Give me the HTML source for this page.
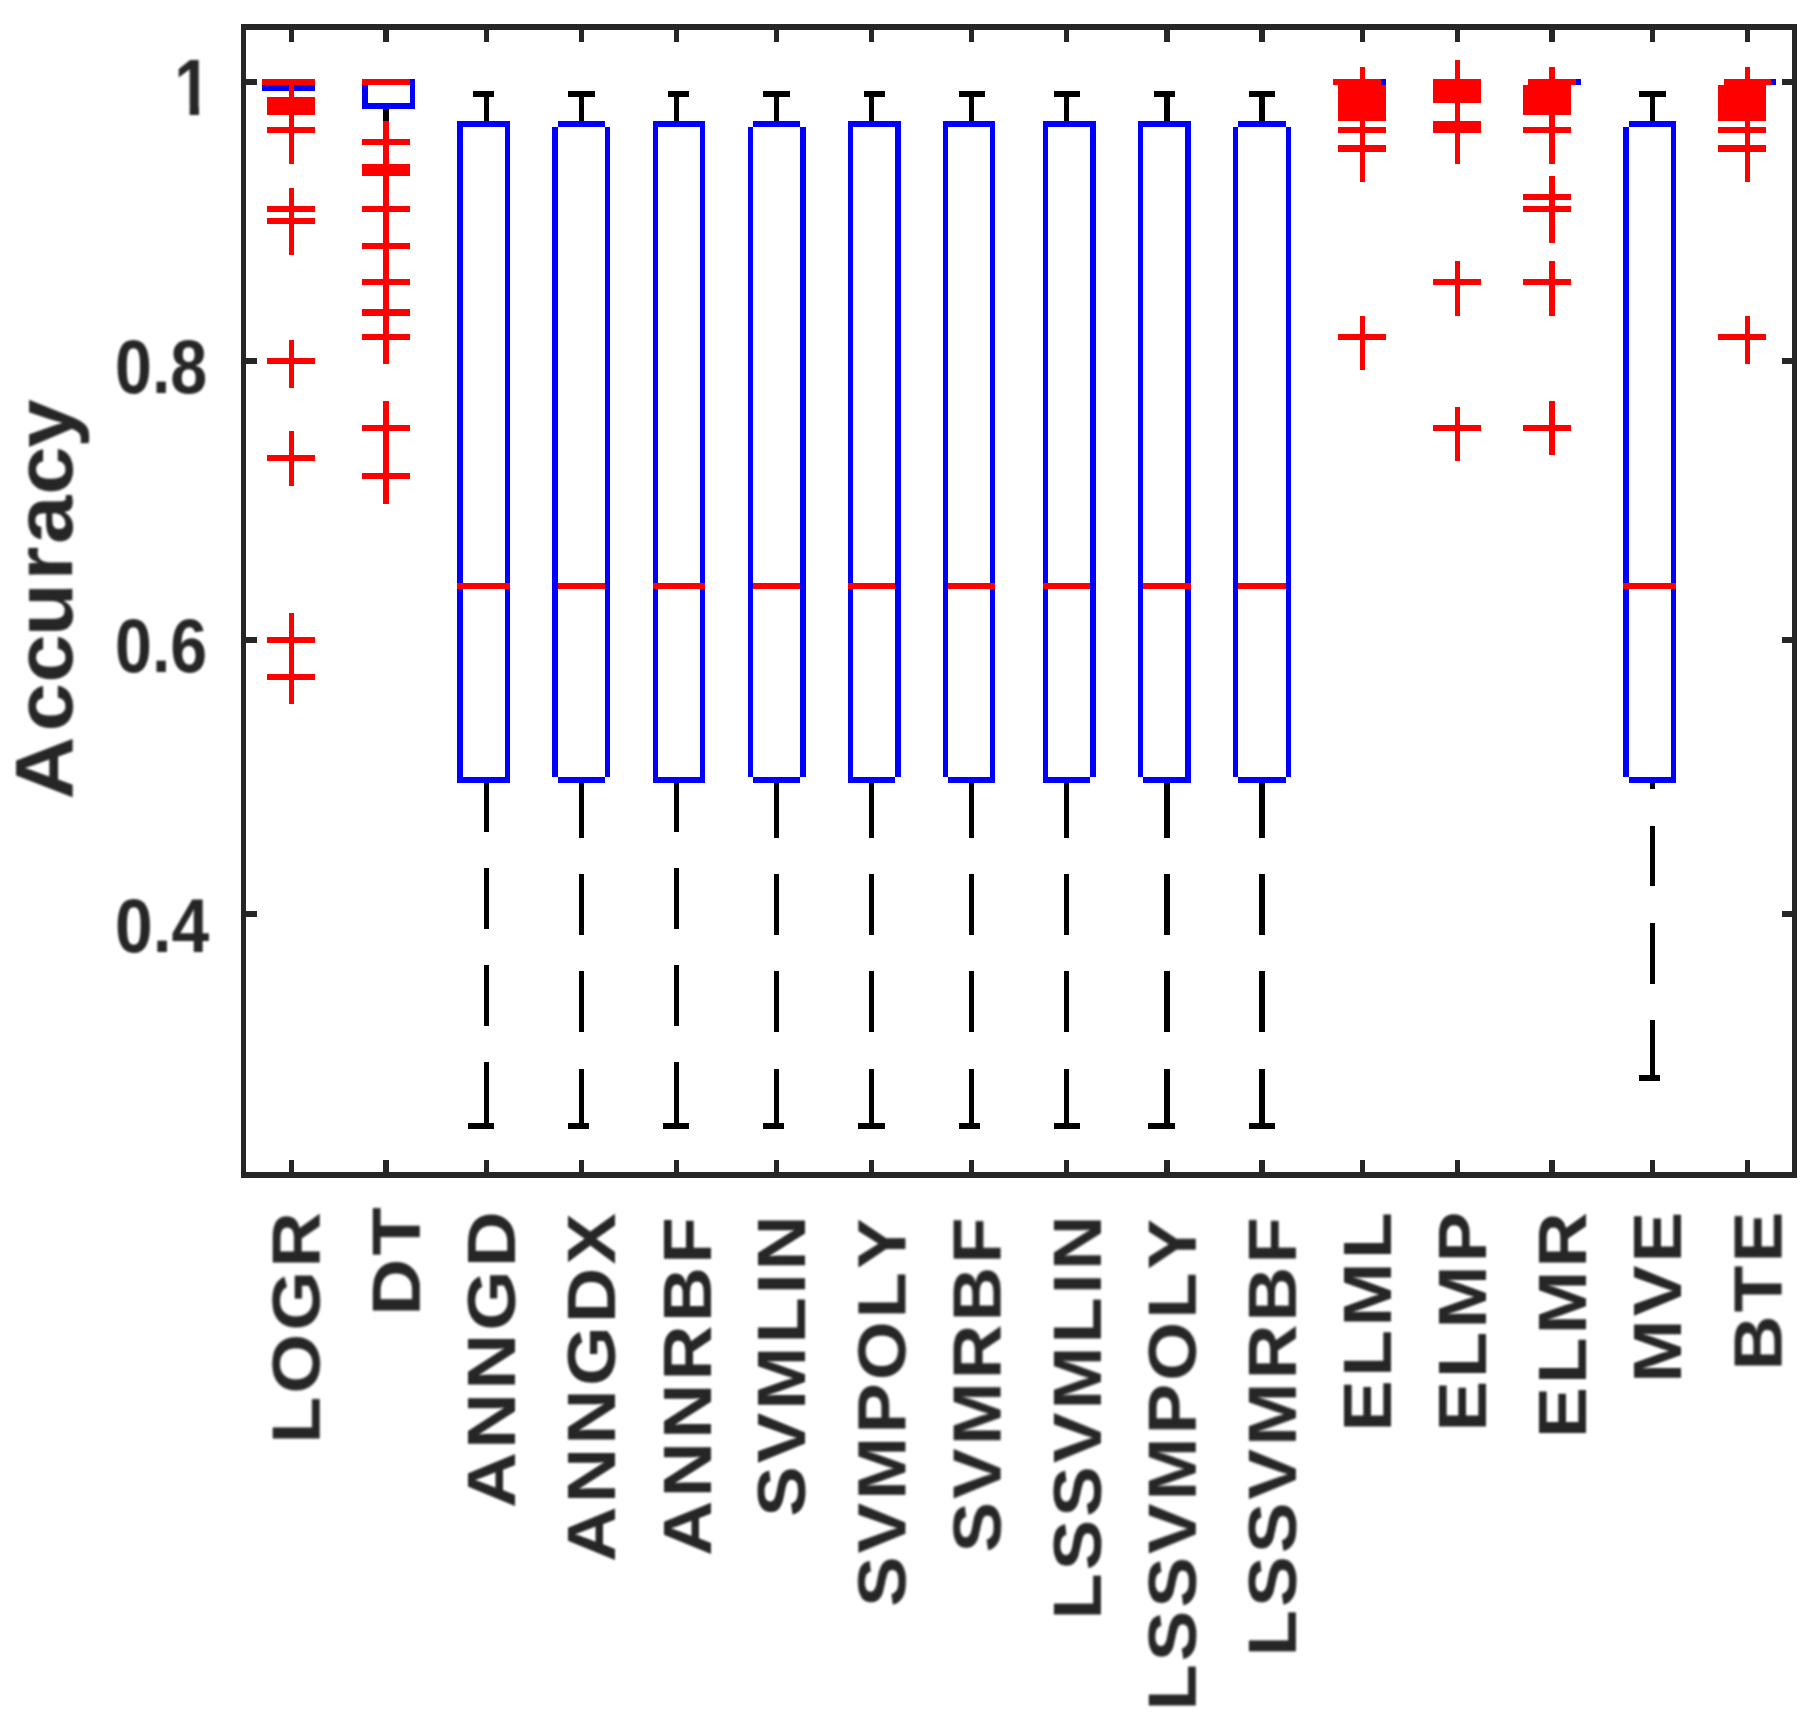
<!DOCTYPE html>
<html><head><meta charset="utf-8"><title>Accuracy boxplot</title>
<style>
html,body{margin:0;padding:0;background:#fff;}
body{width:1819px;height:1723px;overflow:hidden;}
svg{display:block;}
text{font-kerning:none;font-family:"Liberation Sans",sans-serif;font-weight:bold;fill:#262626;}
</style></head><body>
<svg width="1819" height="1723" viewBox="0 0 1819 1723">
<rect x="0" y="0" width="1819" height="1723" fill="#ffffff"/>
<g id="plot" shape-rendering="crispEdges">
<rect x="241.02" y="24.00" width="5.28" height="1153.87" fill="#262626"/>
<rect x="1792.16" y="24.00" width="5.28" height="1153.87" fill="#262626"/>
<rect x="241.02" y="24.00" width="1556.42" height="6.07" fill="#262626"/>
<rect x="241.02" y="1171.80" width="1556.42" height="6.07" fill="#262626"/>
<rect x="288.50" y="30.08" width="5.28" height="12.15" fill="#262626"/>
<rect x="288.50" y="1159.65" width="5.28" height="12.15" fill="#262626"/>
<rect x="383.47" y="30.08" width="5.28" height="12.15" fill="#262626"/>
<rect x="383.47" y="1159.65" width="5.28" height="12.15" fill="#262626"/>
<rect x="483.72" y="30.08" width="5.28" height="12.15" fill="#262626"/>
<rect x="483.72" y="1159.65" width="5.28" height="12.15" fill="#262626"/>
<rect x="578.68" y="30.08" width="5.28" height="12.15" fill="#262626"/>
<rect x="578.68" y="1159.65" width="5.28" height="12.15" fill="#262626"/>
<rect x="673.65" y="30.08" width="5.28" height="12.15" fill="#262626"/>
<rect x="673.65" y="1159.65" width="5.28" height="12.15" fill="#262626"/>
<rect x="773.90" y="30.08" width="5.28" height="12.15" fill="#262626"/>
<rect x="773.90" y="1159.65" width="5.28" height="12.15" fill="#262626"/>
<rect x="868.86" y="30.08" width="5.28" height="12.15" fill="#262626"/>
<rect x="868.86" y="1159.65" width="5.28" height="12.15" fill="#262626"/>
<rect x="969.11" y="30.08" width="5.28" height="12.15" fill="#262626"/>
<rect x="969.11" y="1159.65" width="5.28" height="12.15" fill="#262626"/>
<rect x="1064.08" y="30.08" width="5.28" height="12.15" fill="#262626"/>
<rect x="1064.08" y="1159.65" width="5.28" height="12.15" fill="#262626"/>
<rect x="1164.32" y="30.08" width="5.28" height="12.15" fill="#262626"/>
<rect x="1164.32" y="1159.65" width="5.28" height="12.15" fill="#262626"/>
<rect x="1259.29" y="30.08" width="5.28" height="12.15" fill="#262626"/>
<rect x="1259.29" y="1159.65" width="5.28" height="12.15" fill="#262626"/>
<rect x="1359.53" y="30.08" width="5.28" height="12.15" fill="#262626"/>
<rect x="1359.53" y="1159.65" width="5.28" height="12.15" fill="#262626"/>
<rect x="1454.50" y="30.08" width="5.28" height="12.15" fill="#262626"/>
<rect x="1454.50" y="1159.65" width="5.28" height="12.15" fill="#262626"/>
<rect x="1549.47" y="30.08" width="5.28" height="12.15" fill="#262626"/>
<rect x="1549.47" y="1159.65" width="5.28" height="12.15" fill="#262626"/>
<rect x="1649.71" y="30.08" width="5.28" height="12.15" fill="#262626"/>
<rect x="1649.71" y="1159.65" width="5.28" height="12.15" fill="#262626"/>
<rect x="1744.68" y="30.08" width="5.28" height="12.15" fill="#262626"/>
<rect x="1744.68" y="1159.65" width="5.28" height="12.15" fill="#262626"/>
<rect x="246.30" y="78.66" width="10.55" height="6.07" fill="#262626"/>
<rect x="1781.61" y="78.66" width="10.55" height="6.07" fill="#262626"/>
<rect x="246.30" y="358.02" width="10.55" height="6.07" fill="#262626"/>
<rect x="1781.61" y="358.02" width="10.55" height="6.07" fill="#262626"/>
<rect x="246.30" y="637.38" width="10.55" height="6.07" fill="#262626"/>
<rect x="1781.61" y="637.38" width="10.55" height="6.07" fill="#262626"/>
<rect x="246.30" y="910.66" width="10.55" height="6.07" fill="#262626"/>
<rect x="1781.61" y="910.66" width="10.55" height="6.07" fill="#262626"/>
<rect x="262.12" y="78.66" width="52.76" height="6.07" fill="#ff0000"/>
<rect x="262.12" y="84.73" width="52.76" height="6.07" fill="#0000ff"/>
<rect x="288.50" y="84.73" width="5.28" height="78.95" fill="#ff0000"/>
<rect x="288.50" y="187.97" width="5.28" height="66.80" fill="#ff0000"/>
<rect x="288.50" y="339.80" width="5.28" height="48.58" fill="#ff0000"/>
<rect x="288.50" y="430.89" width="5.28" height="54.66" fill="#ff0000"/>
<rect x="288.50" y="613.08" width="5.28" height="91.10" fill="#ff0000"/>
<rect x="267.40" y="96.88" width="47.48" height="18.22" fill="#ff0000"/>
<rect x="267.40" y="127.24" width="47.48" height="6.07" fill="#ff0000"/>
<rect x="267.40" y="206.19" width="47.48" height="6.07" fill="#ff0000"/>
<rect x="267.40" y="218.34" width="47.48" height="6.07" fill="#ff0000"/>
<rect x="267.40" y="358.02" width="47.48" height="6.07" fill="#ff0000"/>
<rect x="267.40" y="455.19" width="47.48" height="6.07" fill="#ff0000"/>
<rect x="267.40" y="637.38" width="47.48" height="6.07" fill="#ff0000"/>
<rect x="267.40" y="673.81" width="47.48" height="6.07" fill="#ff0000"/>
<rect x="362.37" y="78.66" width="47.48" height="6.07" fill="#ff0000"/>
<rect x="409.85" y="78.66" width="5.28" height="30.36" fill="#0000ff"/>
<rect x="362.37" y="84.73" width="5.28" height="24.29" fill="#0000ff"/>
<rect x="362.37" y="102.95" width="52.76" height="6.07" fill="#0000ff"/>
<rect x="383.47" y="109.02" width="5.28" height="12.15" fill="#000000"/>
<rect x="383.47" y="121.17" width="5.28" height="242.92" fill="#ff0000"/>
<rect x="383.47" y="400.53" width="5.28" height="103.24" fill="#ff0000"/>
<rect x="362.37" y="139.39" width="47.48" height="6.07" fill="#ff0000"/>
<rect x="362.37" y="163.68" width="47.48" height="12.15" fill="#ff0000"/>
<rect x="362.37" y="206.19" width="47.48" height="6.07" fill="#ff0000"/>
<rect x="362.37" y="242.63" width="47.48" height="6.07" fill="#ff0000"/>
<rect x="362.37" y="279.07" width="47.48" height="6.07" fill="#ff0000"/>
<rect x="362.37" y="309.43" width="47.48" height="6.07" fill="#ff0000"/>
<rect x="362.37" y="333.73" width="47.48" height="6.07" fill="#ff0000"/>
<rect x="362.37" y="424.82" width="47.48" height="6.07" fill="#ff0000"/>
<rect x="362.37" y="473.40" width="47.48" height="6.07" fill="#ff0000"/>
<rect x="457.34" y="121.17" width="52.76" height="6.07" fill="#0000ff"/>
<rect x="457.34" y="121.17" width="5.28" height="661.96" fill="#0000ff"/>
<rect x="504.82" y="121.17" width="5.28" height="661.96" fill="#0000ff"/>
<rect x="457.34" y="777.05" width="52.76" height="6.07" fill="#0000ff"/>
<rect x="457.34" y="582.72" width="52.76" height="6.07" fill="#ff0000"/>
<rect x="473.16" y="90.80" width="21.10" height="6.07" fill="#000000"/>
<rect x="483.72" y="96.88" width="5.28" height="24.29" fill="#000000"/>
<rect x="483.72" y="783.13" width="5.28" height="48.58" fill="#000000"/>
<rect x="483.72" y="868.15" width="5.28" height="60.73" fill="#000000"/>
<rect x="483.72" y="965.32" width="5.28" height="60.73" fill="#000000"/>
<rect x="483.72" y="1062.49" width="5.28" height="60.73" fill="#000000"/>
<rect x="467.89" y="1123.22" width="26.38" height="6.07" fill="#000000"/>
<rect x="557.58" y="121.17" width="47.48" height="6.07" fill="#0000ff"/>
<rect x="552.30" y="127.24" width="5.28" height="649.81" fill="#0000ff"/>
<rect x="605.06" y="127.24" width="5.28" height="649.81" fill="#0000ff"/>
<rect x="557.58" y="777.05" width="47.48" height="6.07" fill="#0000ff"/>
<rect x="557.58" y="582.72" width="47.48" height="6.07" fill="#ff0000"/>
<rect x="568.13" y="90.80" width="26.38" height="6.07" fill="#000000"/>
<rect x="578.68" y="96.88" width="5.28" height="24.29" fill="#000000"/>
<rect x="578.68" y="783.13" width="5.28" height="54.66" fill="#000000"/>
<rect x="578.68" y="874.22" width="5.28" height="60.73" fill="#000000"/>
<rect x="578.68" y="971.39" width="5.28" height="60.73" fill="#000000"/>
<rect x="578.68" y="1068.56" width="5.28" height="54.66" fill="#000000"/>
<rect x="568.13" y="1123.22" width="21.10" height="6.07" fill="#000000"/>
<rect x="652.55" y="121.17" width="52.76" height="6.07" fill="#0000ff"/>
<rect x="652.55" y="121.17" width="5.28" height="661.96" fill="#0000ff"/>
<rect x="700.03" y="121.17" width="5.28" height="661.96" fill="#0000ff"/>
<rect x="652.55" y="777.05" width="52.76" height="6.07" fill="#0000ff"/>
<rect x="652.55" y="582.72" width="52.76" height="6.07" fill="#ff0000"/>
<rect x="668.38" y="90.80" width="21.10" height="6.07" fill="#000000"/>
<rect x="673.65" y="96.88" width="5.28" height="24.29" fill="#000000"/>
<rect x="673.65" y="783.13" width="5.28" height="48.58" fill="#000000"/>
<rect x="673.65" y="868.15" width="5.28" height="60.73" fill="#000000"/>
<rect x="673.65" y="965.32" width="5.28" height="60.73" fill="#000000"/>
<rect x="673.65" y="1062.49" width="5.28" height="60.73" fill="#000000"/>
<rect x="663.10" y="1123.22" width="26.38" height="6.07" fill="#000000"/>
<rect x="752.79" y="121.17" width="47.48" height="6.07" fill="#0000ff"/>
<rect x="747.52" y="127.24" width="5.28" height="649.81" fill="#0000ff"/>
<rect x="800.28" y="127.24" width="5.28" height="649.81" fill="#0000ff"/>
<rect x="752.79" y="777.05" width="47.48" height="6.07" fill="#0000ff"/>
<rect x="752.79" y="582.72" width="47.48" height="6.07" fill="#ff0000"/>
<rect x="763.34" y="90.80" width="26.38" height="6.07" fill="#000000"/>
<rect x="773.90" y="96.88" width="5.28" height="24.29" fill="#000000"/>
<rect x="773.90" y="783.13" width="5.28" height="54.66" fill="#000000"/>
<rect x="773.90" y="874.22" width="5.28" height="60.73" fill="#000000"/>
<rect x="773.90" y="971.39" width="5.28" height="60.73" fill="#000000"/>
<rect x="773.90" y="1068.56" width="5.28" height="54.66" fill="#000000"/>
<rect x="763.34" y="1123.22" width="21.10" height="6.07" fill="#000000"/>
<rect x="847.76" y="121.17" width="52.76" height="6.07" fill="#0000ff"/>
<rect x="847.76" y="121.17" width="5.28" height="661.96" fill="#0000ff"/>
<rect x="895.24" y="121.17" width="5.28" height="655.88" fill="#0000ff"/>
<rect x="847.76" y="777.05" width="47.48" height="6.07" fill="#0000ff"/>
<rect x="847.76" y="582.72" width="47.48" height="6.07" fill="#ff0000"/>
<rect x="863.59" y="90.80" width="21.10" height="6.07" fill="#000000"/>
<rect x="868.86" y="96.88" width="5.28" height="24.29" fill="#000000"/>
<rect x="868.86" y="783.13" width="5.28" height="54.66" fill="#000000"/>
<rect x="868.86" y="874.22" width="5.28" height="60.73" fill="#000000"/>
<rect x="868.86" y="971.39" width="5.28" height="60.73" fill="#000000"/>
<rect x="868.86" y="1068.56" width="5.28" height="54.66" fill="#000000"/>
<rect x="858.31" y="1123.22" width="26.38" height="6.07" fill="#000000"/>
<rect x="942.73" y="121.17" width="52.76" height="6.07" fill="#0000ff"/>
<rect x="942.73" y="121.17" width="5.28" height="655.88" fill="#0000ff"/>
<rect x="990.21" y="121.17" width="5.28" height="661.96" fill="#0000ff"/>
<rect x="948.00" y="777.05" width="47.48" height="6.07" fill="#0000ff"/>
<rect x="948.00" y="582.72" width="47.48" height="6.07" fill="#ff0000"/>
<rect x="958.56" y="90.80" width="26.38" height="6.07" fill="#000000"/>
<rect x="969.11" y="96.88" width="5.28" height="24.29" fill="#000000"/>
<rect x="969.11" y="783.13" width="5.28" height="54.66" fill="#000000"/>
<rect x="969.11" y="874.22" width="5.28" height="60.73" fill="#000000"/>
<rect x="969.11" y="971.39" width="5.28" height="60.73" fill="#000000"/>
<rect x="969.11" y="1068.56" width="5.28" height="54.66" fill="#000000"/>
<rect x="958.56" y="1123.22" width="21.10" height="6.07" fill="#000000"/>
<rect x="1042.97" y="121.17" width="52.76" height="6.07" fill="#0000ff"/>
<rect x="1042.97" y="121.17" width="5.28" height="661.96" fill="#0000ff"/>
<rect x="1090.46" y="121.17" width="5.28" height="655.88" fill="#0000ff"/>
<rect x="1042.97" y="777.05" width="47.48" height="6.07" fill="#0000ff"/>
<rect x="1042.97" y="582.72" width="47.48" height="6.07" fill="#ff0000"/>
<rect x="1053.52" y="90.80" width="26.38" height="6.07" fill="#000000"/>
<rect x="1064.08" y="96.88" width="5.28" height="24.29" fill="#000000"/>
<rect x="1064.08" y="783.13" width="5.28" height="54.66" fill="#000000"/>
<rect x="1064.08" y="874.22" width="5.28" height="60.73" fill="#000000"/>
<rect x="1064.08" y="971.39" width="5.28" height="60.73" fill="#000000"/>
<rect x="1064.08" y="1068.56" width="5.28" height="54.66" fill="#000000"/>
<rect x="1053.52" y="1123.22" width="26.38" height="6.07" fill="#000000"/>
<rect x="1137.94" y="121.17" width="52.76" height="6.07" fill="#0000ff"/>
<rect x="1137.94" y="121.17" width="5.28" height="655.88" fill="#0000ff"/>
<rect x="1185.42" y="121.17" width="5.28" height="661.96" fill="#0000ff"/>
<rect x="1143.22" y="777.05" width="47.48" height="6.07" fill="#0000ff"/>
<rect x="1143.22" y="582.72" width="47.48" height="6.07" fill="#ff0000"/>
<rect x="1153.77" y="90.80" width="21.10" height="6.07" fill="#000000"/>
<rect x="1164.32" y="96.88" width="5.28" height="24.29" fill="#000000"/>
<rect x="1164.32" y="783.13" width="5.28" height="54.66" fill="#000000"/>
<rect x="1164.32" y="874.22" width="5.28" height="60.73" fill="#000000"/>
<rect x="1164.32" y="971.39" width="5.28" height="60.73" fill="#000000"/>
<rect x="1164.32" y="1068.56" width="5.28" height="54.66" fill="#000000"/>
<rect x="1148.49" y="1123.22" width="26.38" height="6.07" fill="#000000"/>
<rect x="1238.18" y="121.17" width="47.48" height="6.07" fill="#0000ff"/>
<rect x="1232.91" y="127.24" width="5.28" height="649.81" fill="#0000ff"/>
<rect x="1285.67" y="127.24" width="5.28" height="649.81" fill="#0000ff"/>
<rect x="1238.18" y="777.05" width="47.48" height="6.07" fill="#0000ff"/>
<rect x="1238.18" y="582.72" width="47.48" height="6.07" fill="#ff0000"/>
<rect x="1248.74" y="90.80" width="26.38" height="6.07" fill="#000000"/>
<rect x="1259.29" y="96.88" width="5.28" height="24.29" fill="#000000"/>
<rect x="1259.29" y="783.13" width="5.28" height="54.66" fill="#000000"/>
<rect x="1259.29" y="874.22" width="5.28" height="60.73" fill="#000000"/>
<rect x="1259.29" y="971.39" width="5.28" height="60.73" fill="#000000"/>
<rect x="1259.29" y="1068.56" width="5.28" height="54.66" fill="#000000"/>
<rect x="1248.74" y="1123.22" width="26.38" height="6.07" fill="#000000"/>
<rect x="1628.61" y="121.17" width="47.48" height="6.07" fill="#0000ff"/>
<rect x="1623.33" y="127.24" width="5.28" height="649.81" fill="#0000ff"/>
<rect x="1670.82" y="121.17" width="5.28" height="661.96" fill="#0000ff"/>
<rect x="1628.61" y="777.05" width="47.48" height="6.07" fill="#0000ff"/>
<rect x="1623.33" y="582.72" width="52.76" height="6.07" fill="#ff0000"/>
<rect x="1639.16" y="90.80" width="26.38" height="6.07" fill="#000000"/>
<rect x="1649.71" y="96.88" width="5.28" height="24.29" fill="#000000"/>
<rect x="1649.71" y="783.13" width="5.28" height="6.07" fill="#000000"/>
<rect x="1649.71" y="825.64" width="5.28" height="60.73" fill="#000000"/>
<rect x="1649.71" y="922.81" width="5.28" height="60.73" fill="#000000"/>
<rect x="1649.71" y="1019.97" width="5.28" height="54.66" fill="#000000"/>
<rect x="1639.16" y="1074.63" width="21.10" height="6.07" fill="#000000"/>
<rect x="1333.15" y="78.66" width="47.48" height="6.07" fill="#ff0000"/>
<rect x="1380.64" y="78.66" width="5.28" height="6.07" fill="#0000ff"/>
<rect x="1359.53" y="66.51" width="5.28" height="115.39" fill="#ff0000"/>
<rect x="1359.53" y="315.51" width="5.28" height="54.66" fill="#ff0000"/>
<rect x="1338.43" y="84.73" width="47.48" height="36.44" fill="#ff0000"/>
<rect x="1338.43" y="127.24" width="47.48" height="6.07" fill="#ff0000"/>
<rect x="1338.43" y="145.46" width="47.48" height="6.07" fill="#ff0000"/>
<rect x="1338.43" y="333.73" width="47.48" height="6.07" fill="#ff0000"/>
<rect x="1454.50" y="60.44" width="5.28" height="103.24" fill="#ff0000"/>
<rect x="1454.50" y="260.85" width="5.28" height="54.66" fill="#ff0000"/>
<rect x="1454.50" y="406.60" width="5.28" height="54.66" fill="#ff0000"/>
<rect x="1433.40" y="78.66" width="47.48" height="24.29" fill="#ff0000"/>
<rect x="1433.40" y="121.17" width="47.48" height="12.15" fill="#ff0000"/>
<rect x="1433.40" y="279.07" width="47.48" height="6.07" fill="#ff0000"/>
<rect x="1433.40" y="424.82" width="47.48" height="6.07" fill="#ff0000"/>
<rect x="1528.36" y="78.66" width="47.48" height="6.07" fill="#ff0000"/>
<rect x="1575.85" y="78.66" width="5.28" height="6.07" fill="#0000ff"/>
<rect x="1549.47" y="66.51" width="5.28" height="97.17" fill="#ff0000"/>
<rect x="1549.47" y="175.83" width="5.28" height="66.80" fill="#ff0000"/>
<rect x="1549.47" y="260.85" width="5.28" height="54.66" fill="#ff0000"/>
<rect x="1549.47" y="400.53" width="5.28" height="54.66" fill="#ff0000"/>
<rect x="1523.09" y="84.73" width="47.48" height="30.36" fill="#ff0000"/>
<rect x="1523.09" y="127.24" width="47.48" height="6.07" fill="#ff0000"/>
<rect x="1523.09" y="194.05" width="47.48" height="6.07" fill="#ff0000"/>
<rect x="1523.09" y="206.19" width="47.48" height="6.07" fill="#ff0000"/>
<rect x="1523.09" y="279.07" width="47.48" height="6.07" fill="#ff0000"/>
<rect x="1523.09" y="424.82" width="47.48" height="6.07" fill="#ff0000"/>
<rect x="1723.58" y="78.66" width="47.48" height="6.07" fill="#ff0000"/>
<rect x="1771.06" y="78.66" width="5.28" height="6.07" fill="#0000ff"/>
<rect x="1744.68" y="66.51" width="5.28" height="115.39" fill="#ff0000"/>
<rect x="1744.68" y="315.51" width="5.28" height="48.58" fill="#ff0000"/>
<rect x="1718.30" y="84.73" width="47.48" height="36.44" fill="#ff0000"/>
<rect x="1718.30" y="127.24" width="47.48" height="6.07" fill="#ff0000"/>
<rect x="1718.30" y="145.46" width="47.48" height="6.07" fill="#ff0000"/>
<rect x="1718.30" y="333.73" width="47.48" height="6.07" fill="#ff0000"/>
</g>
<g id="labels" style="filter:blur(1.2px)">
<text transform="translate(319.70,1443.65) rotate(-90) scale(1.1176,1)" font-size="68.90" letter-spacing="2.76">LOGR</text>
<text transform="translate(419.80,1315.79) rotate(-90) scale(1.1488,1)" font-size="68.90" letter-spacing="2.76">DT</text>
<text transform="translate(515.00,1507.94) rotate(-90) scale(1.1251,1)" font-size="68.90" letter-spacing="2.76">ANNGD</text>
<text transform="translate(615.30,1561.94) rotate(-90) scale(1.1164,1)" font-size="68.90" letter-spacing="2.76">ANNGDX</text>
<text transform="translate(710.50,1555.93) rotate(-90) scale(1.1124,1)" font-size="68.90" letter-spacing="2.76">ANNRBF</text>
<text transform="translate(805.10,1516.87) rotate(-90) scale(1.1000,1)" font-size="68.90" letter-spacing="2.76">SVMLIN</text>
<text transform="translate(905.40,1606.89) rotate(-90) scale(1.0992,1)" font-size="68.90" letter-spacing="2.76">SVMPOLY</text>
<text transform="translate(1000.60,1552.49) rotate(-90) scale(1.0996,1)" font-size="68.90" letter-spacing="2.76">SVMRBF</text>
<text transform="translate(1100.90,1619.55) rotate(-90) scale(1.0993,1)" font-size="68.90" letter-spacing="2.76">LSSVMLIN</text>
<text transform="translate(1195.80,1710.55) rotate(-90) scale(1.0999,1)" font-size="68.90" letter-spacing="2.76">LSSVMPOLY</text>
<text transform="translate(1295.90,1656.40) rotate(-90) scale(1.1027,1)" font-size="68.90" letter-spacing="2.76">LSSVMRBF</text>
<text transform="translate(1390.90,1431.66) rotate(-90) scale(1.1218,1)" font-size="68.90" letter-spacing="2.76">ELML</text>
<text transform="translate(1486.10,1431.56) rotate(-90) scale(1.1015,1)" font-size="68.90" letter-spacing="2.76">ELMP</text>
<text transform="translate(1586.00,1437.99) rotate(-90) scale(1.1092,1)" font-size="68.90" letter-spacing="2.76">ELMR</text>
<text transform="translate(1681.10,1382.81) rotate(-90) scale(1.1063,1)" font-size="68.90" letter-spacing="2.76">MVE</text>
<text transform="translate(1781.60,1370.60) rotate(-90) scale(1.1105,1)" font-size="68.90" letter-spacing="2.76">BTE</text>
<text transform="translate(72.10,801.00) rotate(-90) scale(1.0740,1)" font-size="81.00" x="1.58 64.74 110.13 153.45 205.46 239.39 285.18 328.96">Accuracy</text>
<clipPath id="one"><rect x="160" y="40" width="60" height="65.23"/><rect x="189.64" y="100" width="9.36" height="20"/></clipPath>
<g clip-path="url(#one)"><text transform="translate(174.24,115.00) scale(1.0000,1.1980)" font-size="66.00">1</text></g>
<text transform="translate(114.98,392.83) scale(1.0058,1.1502)" font-size="66.00">0.8</text>
<text transform="translate(114.98,672.03) scale(1.0058,1.1585)" font-size="66.00">0.6</text>
<text transform="translate(114.93,952.22) scale(1.0281,1.1585)" font-size="66.00">0.4</text>
</g>
</svg>
</body></html>
